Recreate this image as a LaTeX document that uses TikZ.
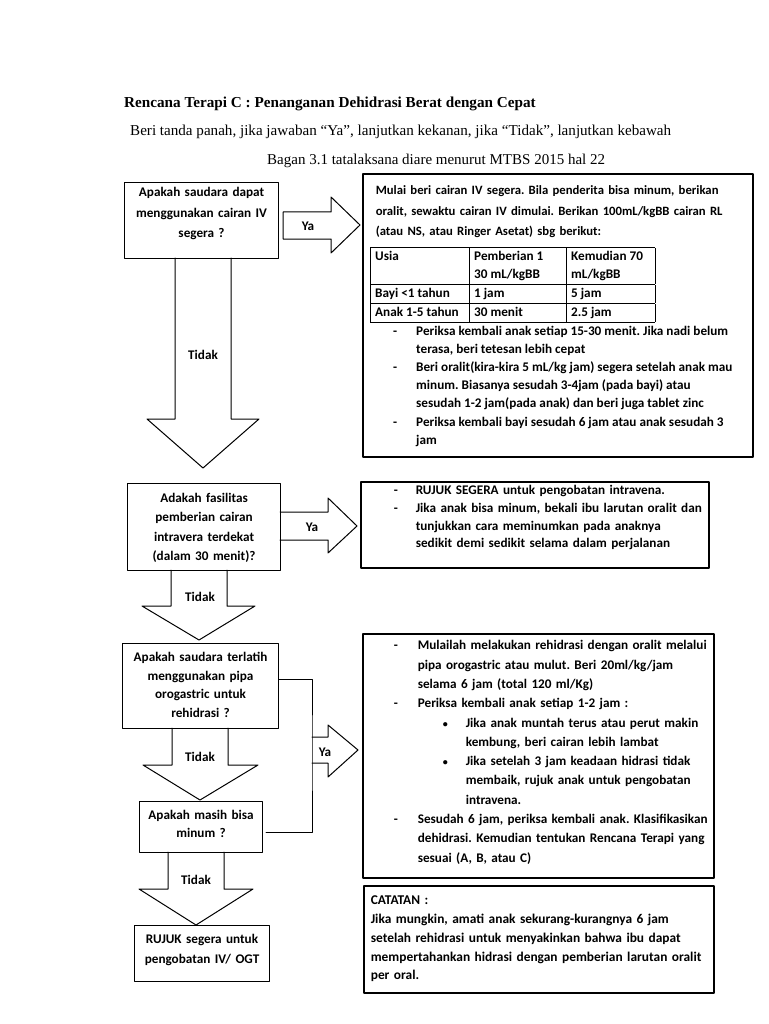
\documentclass[tikz,border=0pt]{standalone}
\usepackage{fontspec}
\setmainfont{Liberation Serif}
\newfontfamily\calibrifont{Carlito}
\newcommand{\boxfont}[2][13.2]{\calibrifont\bfseries\fontsize{#1}{#2}\selectfont}

\begin{document}
\frenchspacing
\begin{tikzpicture}[line cap=round,line join=round,x=1pt,y=-1pt,
  qbox/.style={draw,line width=1.1pt,anchor=north west,inner sep=0pt,align=center},
  rbox/.style={draw,line width=1.6pt,anchor=north west,inner sep=0pt,align=left},
  blockarr/.style={draw,line width=1pt,fill=white},
  lbl/.style={inner sep=0pt,font={\boxfont{15}}}]
\useasboundingbox (0,0) rectangle (768,1024);
% judul
\node[anchor=base west,inner sep=0pt,font=\bfseries\fontsize{15.2}{18}\selectfont] (judul) at (124,108) {Rencana Terapi C : Penanganan Dehidrasi Berat dengan Cepat};
\node[anchor=base west,inner sep=0pt,font=\fontsize{15.1}{18}\selectfont] (petunjuk) at (130,136) {Beri tanda panah, jika jawaban “Ya”, lanjutkan kekanan, jika “Tidak”, lanjutkan kebawah};
\node[anchor=base west,inner sep=0pt,font=\fontsize{15}{18}\selectfont] (bagan) at (267,165) {Bagan 3.1 tatalaksana diare menurut MTBS 2015 hal 22};
% panah blok
\draw[blockarr] (283,212) -- (331,212) -- (331,197) -- (360,225) -- (331,253) -- (331,239) -- (283,239) -- cycle;
\draw[blockarr] (175,258) -- (175,419) -- (147,419) -- (203,468) -- (259,419) -- (231,419) -- (231,258);
\draw[blockarr] (280,512) -- (328,512) -- (328,498) -- (357,526) -- (328,553) -- (328,540) -- (280,540);
\draw[blockarr] (171,570) -- (171,606) -- (142,606) -- (199,640) -- (255,606) -- (227,606) -- (227,570);
\draw[blockarr] (172,728) -- (172,765) -- (143,765) -- (200,800) -- (258,765) -- (228,765) -- (228,728);
\draw[blockarr] (312,737) -- (328,737) -- (328,725) -- (358,750) -- (328,777) -- (328,763) -- (312,763);
\draw[blockarr] (168,852) -- (168,889) -- (139,889) -- (196,925) -- (253,889) -- (224,889) -- (224,852);
\node[lbl] (ya1) at (308,226) {Ya};
\node[lbl] (tidak1) at (203,355) {Tidak};
\node[lbl] (ya2) at (312,527) {Ya};
\node[lbl] (tidak2) at (200,597) {Tidak};
\node[lbl] (tidak3) at (200,757) {Tidak};
\node[lbl] (ya3) at (325,752) {Ya};
\node[lbl] (tidak4) at (196,880) {Tidak};
% kotak pertanyaan
\node[qbox,text width=154pt,text height=14pt,text depth=62pt,font={\boxfont{20.5}}] (q1) at (124,182)
  {\begin{tabular}[t]{@{}c@{}}Apakah saudara dapat\\menggunakan cairan IV\\segera ?\end{tabular}};
\node[qbox,text width=153pt,text height=19pt,text depth=68pt,font={\boxfont{19.3}}] (q2) at (127,483)
  {\begin{tabular}[t]{@{}c@{}}Adakah fasilitas\\pemberian cairan\\intravera terdekat\\(dalam 30 menit)?\end{tabular}};
\node[qbox,text width=156pt,text height=18pt,text depth=67pt,font={\boxfont{18.7}}] (q3) at (122,643)
  {\begin{tabular}[t]{@{}c@{}}Apakah saudara terlatih\\menggunakan pipa\\orogastric untuk\\rehidrasi ?\end{tabular}};
\node[qbox,text width=123pt,text height=18pt,text depth=33pt,font={\boxfont{18}}] (q4) at (139,801)
  {\begin{tabular}[t]{@{}c@{}}Apakah masih bisa\\minum ?\end{tabular}};
\node[qbox,text width=135pt,text height=18pt,text depth=38pt,font={\boxfont{20}}] (q5) at (134,925)
  {\begin{tabular}[t]{@{}c@{}}RUJUK segera untuk\\pengobatan IV/ OGT\end{tabular}};
% garis ya dari q3 dan q4
\coordinate (ya3jn) at (312,750);
\draw[line width=1pt] ([yshift=6.5pt]q3.east) -| (ya3jn) |- ([xshift=3pt,yshift=-5.5pt]q4.east);
% kotak tindakan
\node[rbox,text width=390pt,text height=21pt,text depth=262pt,font={\boxfont[12.7]{20.5}}] (r1) at (362,173)
  {\begin{tabular}[t]{@{\hspace{13pt}}l@{}}
  Mulai beri cairan IV segera. Bila penderita bisa minum, berikan\\
  oralit, sewaktu cairan IV dimulai. Berikan 100mL/kgBB cairan RL\\
  (atau NS, atau Ringer Asetat) sbg berikut:
  \end{tabular}};
\node[anchor=north west,inner sep=0pt,font={\boxfont{18}}] (r1tab) at (370,247)
  {\setlength{\arrayrulewidth}{0.8pt}\setlength{\tabcolsep}{5pt}%
  \begin{tabular}{|p{89pt}|p{87pt}|p{79pt}|}
  \hline
  Usia & Pemberian 1 & Kemudian 70\\
  & 30 mL/kgBB & mL/kgBB\\ \hline
  Bayi <1 tahun & 1 jam & 5 jam\\ \hline
  Anak 1-5 tahun & 30 menit & 2.5 jam\\ \hline
  \end{tabular}};
\node[anchor=base west,inner sep=0pt,font={\boxfont{18.2}}] (r1list) at (393,335)
  {\begin{tabular}[t]{@{}p{23pt}@{}l@{}}
  - & Periksa kembali anak setiap 15-30 menit. Jika nadi belum\\
  & terasa, beri tetesan lebih cepat\\
  - & Beri oralit(kira-kira 5 mL/kg jam) segera setelah anak mau\\
  & minum. Biasanya sesudah 3-4jam (pada bayi) atau\\
  & sesudah 1-2 jam(pada anak) dan beri juga tablet zinc\\
  - & Periksa kembali bayi sesudah 6 jam atau anak sesudah 3\\
  & jam
  \end{tabular}};
\node[rbox,text width=348pt,text height=13pt,text depth=73pt,font={\boxfont{17.7}}] (r2) at (360,481)
  {\begin{tabular}[t]{@{\hspace{33pt}}p{22pt}@{}l@{}}
  - & RUJUK SEGERA untuk pengobatan intravena.\\
  - & Jika anak bisa minum, bekali ibu larutan oralit dan\\
  & tunjukkan cara meminumkan pada anaknya\\
  & sedikit demi sedikit selama dalam perjalanan
  \end{tabular}};
\node[rbox,text width=351pt,text height=16pt,text depth=228pt,font={\boxfont{19.3}}] (r3) at (362,633)
  {\begin{tabular}[t]{@{\hspace{31pt}}p{24pt}@{}p{48pt}@{}l@{}}
  - & \multicolumn{2}{@{}l@{}}{Mulailah melakukan rehidrasi dengan oralit melalui}\\
  & \multicolumn{2}{@{}l@{}}{pipa orogastric atau mulut. Beri 20ml/kg/jam}\\
  & \multicolumn{2}{@{}l@{}}{selama 6 jam (total 120 ml/Kg)}\\
  - & \multicolumn{2}{@{}l@{}}{Periksa kembali anak setiap 1-2 jam :}\\
  & \hspace{25pt}{\fontsize{10}{10}\selectfont\textbullet} & Jika anak muntah terus atau perut makin\\
  & & kembung, beri cairan lebih lambat\\
  & \hspace{25pt}{\fontsize{10}{10}\selectfont\textbullet} & Jika setelah 3 jam keadaan hidrasi tidak\\
  & & membaik, rujuk anak untuk pengobatan\\
  & & intravena.\\
  - & \multicolumn{2}{@{}l@{}}{Sesudah 6 jam, periksa kembali anak. Klasifikasikan}\\
  & \multicolumn{2}{@{}l@{}}{dehidrasi. Kemudian tentukan Rencana Terapi yang}\\
  & \multicolumn{2}{@{}l@{}}{sesuai (A, B, atau C)}
  \end{tabular}};
\node[rbox,text width=350pt,text height=19pt,text depth=88pt,font={\boxfont[13.4]{18.75}}] (r4) at (363,885)
  {\begin{tabular}[t]{@{\hspace{7pt}}l@{}}
  CATATAN :\\
  Jika mungkin, amati anak sekurang-kurangnya 6 jam\\
  setelah rehidrasi untuk menyakinkan bahwa ibu dapat\\
  mempertahankan hidrasi dengan pemberian larutan oralit\\
  per oral.
  \end{tabular}};
\end{tikzpicture}
\end{document}
